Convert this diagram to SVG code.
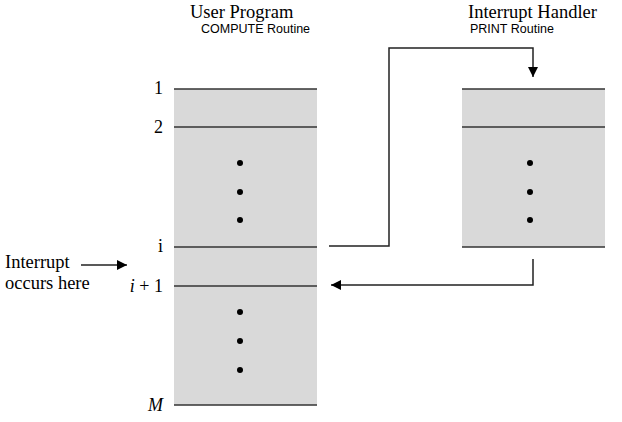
<svg xmlns="http://www.w3.org/2000/svg" width="622" height="422" viewBox="0 0 622 422">
<defs>
<style>
.serif{font-family:"Liberation Serif","Times New Roman",serif;font-size:18.5px;fill:#000}
.sans{font-family:"Liberation Sans",Arial,sans-serif;font-size:12.5px;fill:#000}
.num{font-family:"Liberation Serif","Times New Roman",serif;font-size:18px;fill:#000;text-anchor:end}
.box{fill:#d9d9d9;stroke:none}
.rule{stroke:#333;stroke-width:1.5}
.conn{fill:none;stroke:#222;stroke-width:1.5}
.dot{fill:#000}
</style>
<marker id="arr" viewBox="0 0 10 10" refX="10" refY="5" markerWidth="10" markerHeight="10" markerUnits="userSpaceOnUse" orient="auto">
<path d="M0,0 L10,5 L0,10 Z" fill="#000"/>
</marker>
</defs>
<rect width="622" height="422" fill="#fff"/>
<g id="title-user">
<text class="serif" x="190" y="18">User Program</text>
<text class="sans" x="201" y="33">COMPUTE Routine</text>
</g>
<g id="title-handler">
<text class="serif" x="468" y="18">Interrupt Handler</text>
<text class="sans" x="470" y="33">PRINT Routine</text>
</g>
<g id="user-program">
<rect class="box" x="174" y="89" width="143" height="316"/>
<line class="rule" x1="174" y1="89" x2="317" y2="89"/>
<line class="rule" x1="174" y1="127" x2="317" y2="127"/>
<line class="rule" x1="174" y1="247" x2="317" y2="247"/>
<line class="rule" x1="174" y1="286" x2="317" y2="286"/>
<line class="rule" x1="174" y1="405" x2="317" y2="405"/>
<circle class="dot" cx="240" cy="163" r="3"/>
<circle class="dot" cx="240" cy="192" r="3"/>
<circle class="dot" cx="240" cy="220" r="3"/>
<circle class="dot" cx="240" cy="312" r="3"/>
<circle class="dot" cx="240" cy="341" r="3"/>
<circle class="dot" cx="240" cy="370" r="3"/>
<text class="num" x="163" y="94">1</text>
<text class="num" x="163" y="133">2</text>
<text class="num" x="163" y="252">i</text>
<text class="num" x="163" y="292"><tspan font-style="italic">i</tspan> + 1</text>
<text class="num" x="163" y="411" font-style="italic">M</text>
</g>
<g id="interrupt-handler">
<rect class="box" x="462" y="89" width="143" height="158"/>
<line class="rule" x1="462" y1="89" x2="605" y2="89"/>
<line class="rule" x1="462" y1="127" x2="605" y2="127"/>
<line class="rule" x1="462" y1="247" x2="605" y2="247"/>
<circle class="dot" cx="530" cy="163" r="3"/>
<circle class="dot" cx="530" cy="192" r="3"/>
<circle class="dot" cx="530" cy="220" r="3"/>
</g>
<g id="interrupt-label">
<text class="serif" x="5" y="268">Interrupt</text>
<text class="serif" x="5" y="289">occurs here</text>
</g>
<g id="connectors">
<path class="conn" d="M329,246 H389 V48 H533 V77" marker-end="url(#arr)"/>
<path class="conn" d="M533,259 V285 H331" marker-end="url(#arr)"/>
<path class="conn" d="M81,265 H127" marker-end="url(#arr)"/>
</g>
</svg>
